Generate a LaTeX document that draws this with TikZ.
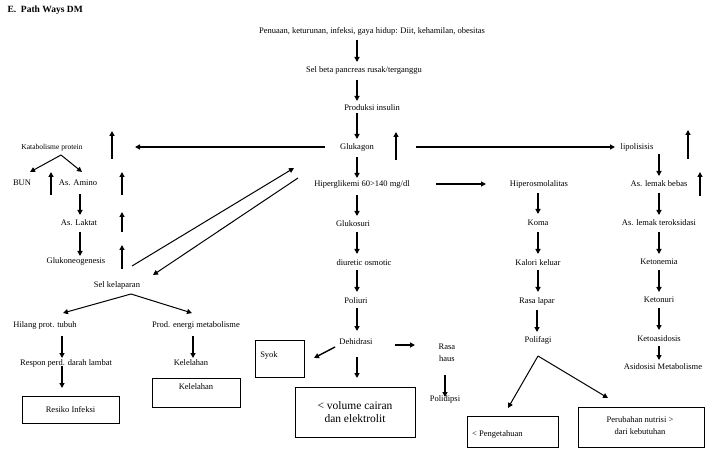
\documentclass[tikz,border=0pt]{standalone}
\usepackage{fontspec}
\setmainfont{Liberation Serif}
\usetikzlibrary{arrows.meta}
\begin{document}
\begin{tikzpicture}[x=1pt,y=-1pt,
  t/.style={font=\fontsize{8.5}{9.5}\selectfont,inner sep=0pt,align=center},
  ar/.style={-{Triangle[length=5pt,width=5pt]},line width=1.4pt},
  arl/.style={-{Triangle[length=5pt,width=5pt]},line width=1pt},
  bx/.style={draw,line width=0.6pt}]
\useasboundingbox (0,0) rectangle (726,449);
\node[anchor=west,font=\bfseries\fontsize{9.5}{10}\selectfont] (title) at (4,10) {E.\ \ Path Ways DM};
\node[t] (pen) at (372,31) {Penuaan, keturunan, infeksi, gaya hidup: Diit, kehamilan, obesitas};
\node[t] (sel) at (364,70) {Sel beta pancreas rusak/terganggu};
\node[t] (prod) at (372,108) {Produksi insulin};
\node[t] (glu) at (357,147) {Glukagon};
\node[t] (hip) at (362,184) {Hiperglikemi 60>140 mg/dl};
\node[t] (gks) at (353,224) {Glukosuri};
\node[t] (diu) at (364,263) {diuretic osmotic};
\node[t] (pol) at (356,301) {Poliuri};
\node[t] (deh) at (356,342) {Dehidrasi};
\node[t] (rh) at (447,353) {Rasa\\[2pt]haus};
\node[t] (pdp) at (445,399) {Polidipsi};
\node[bx,minimum width=49,minimum height=37] (syb) at (279.5,358.5) {};
\node[t] (sy) at (269,355) {Syok};
\node[bx,minimum width=120,minimum height=50,align=center,font=\fontsize{11.5}{13.5}\selectfont] (vol) at (355,412) {< volume cairan\\dan elektrolit};
% left
\node[t,font=\fontsize{7.5}{8.5}\selectfont] (kat) at (52,148) {Katabolisme protein};
\node[t] (bun) at (22,183) {BUN};
\node[t] (ami) at (78,183) {As. Amino};
\node[t] (lak) at (79,223) {As. Laktat};
\node[t] (glk) at (76,261) {Glukoneogenesis};
\node[t] (skl) at (117,285) {Sel kelaparan};
\node[t] (hil) at (45,325) {Hilang prot. tubuh};
\node[t] (pen2) at (196,325) {Prod. energi metabolisme};
\node[t] (res) at (66,363) {Respon perd. darah lambat};
\node[t] (kel) at (191,363) {Kelelahan};
\node[bx,minimum width=97,minimum height=27] (rib) at (70.5,409.5) {};
\node[t] at (rib) {Resiko Infeksi};
\node[bx,minimum width=88,minimum height=29] (kelb) at (196,392.5) {};
\node[t] (kelt) at (196,387) {Kelelahan};
% middle right
\node[t] (hos) at (539,184) {Hiperosmolalitas};
\node[t] (kom) at (538,223) {Koma};
\node[t] (kal) at (538,263) {Kalori keluar};
\node[t] (ras) at (537,301) {Rasa lapar};
\node[t] (pfg) at (538,340) {Polifagi};
\node[bx,minimum width=91,minimum height=31] (pgb) at (512.5,431.5) {};
\node[t,anchor=west] at (472,434) {< Pengetahuan};
\node[bx,minimum width=126,minimum height=40] (pnb) at (641,427) {};
\node[t] at (640,425.5) {Perubahan nutrisi >\\[2pt]dari kebutuhan};
% right
\node[t] (lip) at (637,147) {lipolisisis};
\node[t] (alb) at (659,184) {As. lemak bebas};
\node[t] (alt) at (659,223) {As. lemak teroksidasi};
\node[t] (ktn) at (659,262) {Ketonemia};
\node[t] (ktu) at (659,300) {Ketonuri};
\node[t] (kta) at (659,339) {Ketoasidosis};
\node[t] (asm) at (663,367) {Asidosisi Metabolisme};
% coordinates
\coordinate (c1) at (357,40); \coordinate (c1e) at (357,62);
\coordinate (c2) at (357,80); \coordinate (c2e) at (357,101);
\coordinate (c3) at (357,113); \coordinate (c3e) at (357,139);
\coordinate (c4) at (357,157); \coordinate (c4e) at (357,178);
\coordinate (c5) at (357,195); \coordinate (c5e) at (357,216);
\coordinate (c6) at (357,232); \coordinate (c6e) at (357,254);
\coordinate (c7) at (357,270); \coordinate (c7e) at (357,292);
\coordinate (c8) at (357,308); \coordinate (c8e) at (357,331);
\coordinate (c9) at (357,357); \coordinate (c9e) at (357,378);
\draw[ar] (c1)--(c1e); \draw[ar] (c2)--(c2e); \draw[ar] (c3)--(c3e);
\draw[ar] (c4)--(c4e); \draw[ar] (c5)--(c5e); \draw[ar] (c6)--(c6e);
\draw[ar] (c7)--(c7e); \draw[ar] (c8)--(c8e); \draw[ar] (c9)--(c9e);
\draw[ar] (396,160)--(396,132);
\draw[ar] (325,147)--(135,147);
\draw[ar,line width=2pt] (416,147)--(615,147);
\draw[ar] (688,159)--(688,130);
\draw[ar,line width=2pt] (436,184)--(486,184);
\draw[ar] (395,345)--(415,345);
\draw[ar] (335,347)--(314,358);
\draw[ar] (445,375)--(445,397);
% left arrows
\draw[ar] (112,159)--(112,131);
\draw[arl] (61,155)--(30,172); \draw[arl] (61,155)--(82,172);
\draw[ar] (51,195)--(51,172);
\draw[ar] (122,195)--(122,172);
\draw[ar] (80,194)--(80,215);
\draw[ar] (122,232)--(122,212);
\draw[ar] (80,232)--(80,256);
\draw[ar] (122,269)--(122,245);
\draw[arl] (132,266)--(294,168);
\draw[arl] (298,178)--(153,275);
\draw[arl] (131,294)--(63,313); \draw[arl] (131,294)--(192,313);
\draw[ar] (62,336)--(62,358); \draw[ar] (193,336)--(193,358);
\draw[ar] (62,366)--(62,388);
% middle right arrows
\draw[ar] (538,193)--(538,214); \draw[ar] (538,232)--(538,254);
\draw[ar] (538,270)--(538,292); \draw[ar] (537,310)--(537,332);
\draw[arl] (538,356)--(508,408); \draw[arl] (538,356)--(608,398);
% right arrows
\draw[ar] (659,154)--(659,176); \draw[ar] (700,196)--(700,172);
\draw[ar] (659,193)--(659,215); \draw[ar] (659,232)--(659,254);
\draw[ar] (659,270)--(659,292); \draw[ar] (659,308)--(659,330);
\draw[ar] (659,346)--(659,360);
\end{tikzpicture}
\end{document}
